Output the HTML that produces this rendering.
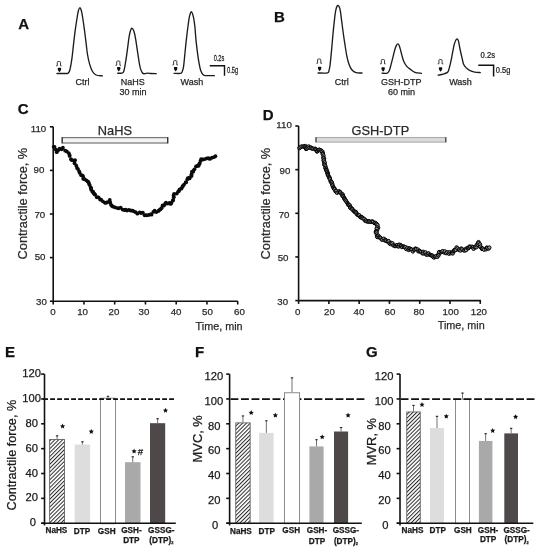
<!DOCTYPE html>
<html><head><meta charset="utf-8"><style>
html,body{margin:0;padding:0;background:#fff;}
svg{display:block;will-change:transform;filter:blur(0.3px);}
text{font-family:"Liberation Sans", sans-serif;}
</style></head><body>
<svg width="540" height="550" viewBox="0 0 540 550">
<defs><pattern id="hatch" patternUnits="userSpaceOnUse" width="2.75" height="2.75" patternTransform="rotate(45)"><rect width="2.75" height="2.75" fill="#fff"/><rect x="0" y="0" width="1.0" height="2.75" fill="#2b2b2b"/></pattern></defs>
<rect width="540" height="550" fill="#fff"/>
<text x="18.15" y="28.6" font-size="15" font-weight="bold" text-anchor="start" fill="#111" stroke="#111" stroke-width="0.25" >A</text>
<text x="273.95" y="21.9" font-size="15" font-weight="bold" text-anchor="start" fill="#111" stroke="#111" stroke-width="0.25" >B</text>
<text x="17.8" y="114.4" font-size="15" font-weight="bold" text-anchor="start" fill="#111" stroke="#111" stroke-width="0.25" >C</text>
<text x="262.85" y="119.8" font-size="15" font-weight="bold" text-anchor="start" fill="#111" stroke="#111" stroke-width="0.25" >D</text>
<text x="5.05" y="356.7" font-size="15" font-weight="bold" text-anchor="start" fill="#111" stroke="#111" stroke-width="0.25" >E</text>
<text x="195.05" y="356.7" font-size="15" font-weight="bold" text-anchor="start" fill="#111" stroke="#111" stroke-width="0.25" >F</text>
<text x="366" y="356.7" font-size="15" font-weight="bold" text-anchor="start" fill="#111" stroke="#111" stroke-width="0.25" >G</text>
<path d="M57 73.5 C58.5 73.5 64.1 73.57 66 73.5 C67.9 73.43 67.73 73.77 68.4 73.1 C69.07 72.43 69.42 71.9 70 69.5 C70.58 67.1 71.32 62.85 71.9 58.7 C72.48 54.55 72.95 49.32 73.5 44.6 C74.05 39.88 74.63 34.67 75.2 30.4 C75.77 26.13 76.4 22.15 76.9 19 C77.4 15.85 77.72 13.37 78.2 11.5 C78.68 9.63 79.25 7.85 79.8 7.8 C80.35 7.75 80.98 9.33 81.5 11.2 C82.02 13.07 82.4 15.8 82.9 19 C83.4 22.2 83.97 26.38 84.5 30.4 C85.03 34.42 85.6 39.08 86.1 43.1 C86.6 47.12 86.9 50.95 87.5 54.5 C88.1 58.05 88.87 61.57 89.7 64.4 C90.53 67.23 91.45 69.73 92.5 71.5 C93.55 73.27 94.35 74.28 96 75 C97.65 75.72 101.33 75.67 102.4 75.8" fill="none" stroke="#1c1c1c" stroke-width="1.35" stroke-linejoin="round" stroke-linecap="round"/>
<path d="M117.7 73.2 C118.42 73.2 121.03 73.4 122 73.2 C122.97 73 123.08 72.8 123.5 72 C123.92 71.2 124.07 70.58 124.5 68.4 C124.93 66.22 125.57 62.42 126.1 58.9 C126.63 55.38 127.17 51.17 127.7 47.3 C128.23 43.43 128.77 38.65 129.3 35.7 C129.83 32.75 130.43 30.83 130.9 29.6 C131.37 28.37 131.58 27.98 132.1 28.3 C132.62 28.62 133.42 29.73 134 31.5 C134.58 33.27 135.07 35.92 135.6 38.9 C136.13 41.88 136.67 45.88 137.2 49.4 C137.73 52.92 138.27 56.83 138.8 60 C139.33 63.17 139.78 66.23 140.4 68.4 C141.02 70.57 141.8 72.12 142.5 73 C143.2 73.88 143.72 73.67 144.6 73.7 C145.48 73.73 146.73 73.23 147.8 73.2 C148.87 73.17 149.6 73.42 151 73.5 C152.4 73.58 155.33 73.67 156.2 73.7" fill="none" stroke="#1c1c1c" stroke-width="1.35" stroke-linejoin="round" stroke-linecap="round"/>
<path d="M174.1 73.4 C175.17 73.4 179.13 73.72 180.5 73.4 C181.87 73.08 181.78 72.67 182.3 71.5 C182.82 70.33 183.15 69.53 183.6 66.4 C184.05 63.27 184.53 57.25 185 52.7 C185.47 48.15 185.88 43.63 186.4 39.1 C186.92 34.57 187.57 29.37 188.1 25.5 C188.63 21.63 189.03 18.18 189.6 15.9 C190.17 13.62 190.85 11.57 191.5 11.8 C192.15 12.03 192.93 14.8 193.5 17.3 C194.07 19.8 194.5 23.17 194.9 26.8 C195.3 30.43 195.5 35 195.9 39.1 C196.3 43.2 196.8 47.53 197.3 51.4 C197.8 55.27 198.33 59.12 198.9 62.3 C199.47 65.48 199.95 68.38 200.7 70.5 C201.45 72.62 202.35 74.15 203.4 75 C204.45 75.85 205.18 75.48 207 75.6 C208.82 75.72 213.08 75.68 214.3 75.7" fill="none" stroke="#1c1c1c" stroke-width="1.35" stroke-linejoin="round" stroke-linecap="round"/>
<path d="M318.1 73 C319.67 72.98 325.68 73.32 327.5 72.9 C329.32 72.48 328.58 71.73 329 70.5 C329.42 69.27 329.58 68.77 330 65.5 C330.42 62.23 331.02 56 331.5 50.9 C331.98 45.8 332.42 39.98 332.9 34.9 C333.38 29.82 333.92 24.52 334.4 20.4 C334.88 16.28 335.25 12.68 335.8 10.2 C336.35 7.72 337.02 5.75 337.7 5.5 C338.38 5.25 339.25 6.22 339.9 8.7 C340.55 11.18 341.07 16.52 341.6 20.4 C342.13 24.28 342.57 28.13 343.1 32 C343.63 35.87 344.2 39.72 344.8 43.6 C345.4 47.48 346.02 51.9 346.7 55.3 C347.38 58.7 348.05 61.58 348.9 64 C349.75 66.42 350.58 68.35 351.8 69.8 C353.02 71.25 354.5 72.17 356.2 72.7 C357.9 73.23 361.03 72.95 362 73" fill="none" stroke="#1c1c1c" stroke-width="1.35" stroke-linejoin="round" stroke-linecap="round"/>
<path d="M382.1 73.2 C382.95 73.18 385.98 73.58 387.2 73.1 C388.42 72.62 388.8 71.55 389.4 70.3 C390 69.05 390.33 67.3 390.8 65.6 C391.27 63.9 391.73 61.95 392.2 60.1 C392.67 58.25 393.13 56.35 393.6 54.5 C394.07 52.65 394.53 50.53 395 49 C395.47 47.47 395.93 46.15 396.4 45.3 C396.87 44.45 397.35 43.9 397.8 43.9 C398.25 43.9 398.65 44.3 399.1 45.3 C399.55 46.3 400.03 48.22 400.5 49.9 C400.97 51.58 401.35 53.47 401.9 55.4 C402.45 57.33 403.02 59.72 403.8 61.5 C404.58 63.28 405.52 64.8 406.6 66.1 C407.68 67.4 408.92 68.25 410.3 69.3 C411.68 70.35 413.05 71.73 414.9 72.4 C416.75 73.07 420.32 73.15 421.4 73.3" fill="none" stroke="#1c1c1c" stroke-width="1.35" stroke-linejoin="round" stroke-linecap="round"/>
<path d="M438.2 75.2 C439.05 75.03 441.77 74.67 443.3 74.2 C444.83 73.73 446.48 73.13 447.4 72.4 C448.32 71.67 448.33 71.15 448.8 69.8 C449.27 68.45 449.73 66.3 450.2 64.3 C450.67 62.3 451.13 60.12 451.6 57.8 C452.07 55.48 452.53 52.72 453 50.4 C453.47 48.08 453.83 45.75 454.4 43.9 C454.97 42.05 455.75 39.85 456.4 39.3 C457.05 38.75 457.72 39.07 458.3 40.6 C458.88 42.13 459.32 45.78 459.9 48.5 C460.48 51.22 461.18 54.27 461.8 56.9 C462.42 59.53 462.83 62.45 463.6 64.3 C464.37 66.15 465.32 66.93 466.4 68 C467.48 69.07 468.72 70.02 470.1 70.7 C471.48 71.38 473 71.78 474.7 72.1 C476.4 72.42 479.37 72.52 480.3 72.6" fill="none" stroke="#1c1c1c" stroke-width="1.35" stroke-linejoin="round" stroke-linecap="round"/>
<path d="M56.1 65.8 h1.2 v-3.5 q0 -0.75 0.75 -0.75 h1.7 q0.75 0 0.75 0.75 v3.5 h1.2" fill="none" stroke="#333" stroke-width="0.95"/>
<path d="M57.7 68.55 q0 -0.75 0.75 -0.75 h2.0 q0.75 0 0.75 0.75 c0 1.9 -1.0 2.9 -1.75 3.7 c-0.75 -0.8 -1.75 -1.8 -1.75 -3.7z" fill="#0d0d0d"/>
<path d="M115.5 65.3 h1.2 v-3.5 q0 -0.75 0.75 -0.75 h1.7 q0.75 0 0.75 0.75 v3.5 h1.2" fill="none" stroke="#333" stroke-width="0.95"/>
<path d="M117 67.85 q0 -0.75 0.75 -0.75 h2.0 q0.75 0 0.75 0.75 c0 1.9 -1.0 2.9 -1.75 3.7 c-0.75 -0.8 -1.75 -1.8 -1.75 -3.7z" fill="#0d0d0d"/>
<path d="M172.4 64.9 h1.2 v-3.5 q0 -0.75 0.75 -0.75 h1.7 q0.75 0 0.75 0.75 v3.5 h1.2" fill="none" stroke="#333" stroke-width="0.95"/>
<path d="M173.9 67.85 q0 -0.75 0.75 -0.75 h2.0 q0.75 0 0.75 0.75 c0 1.9 -1.0 2.9 -1.75 3.7 c-0.75 -0.8 -1.75 -1.8 -1.75 -3.7z" fill="#0d0d0d"/>
<path d="M316.4 63.3 h1.2 v-3.5 q0 -0.75 0.75 -0.75 h1.7 q0.75 0 0.75 0.75 v3.5 h1.2" fill="none" stroke="#333" stroke-width="0.95"/>
<path d="M317.9 67.45 q0 -0.75 0.75 -0.75 h2.0 q0.75 0 0.75 0.75 c0 1.9 -1.0 2.9 -1.75 3.7 c-0.75 -0.8 -1.75 -1.8 -1.75 -3.7z" fill="#0d0d0d"/>
<path d="M380.1 63.8 h1.2 v-3.5 q0 -0.75 0.75 -0.75 h1.7 q0.75 0 0.75 0.75 v3.5 h1.2" fill="none" stroke="#333" stroke-width="0.95"/>
<path d="M381.4 68.05 q0 -0.75 0.75 -0.75 h2.0 q0.75 0 0.75 0.75 c0 1.9 -1.0 2.9 -1.75 3.7 c-0.75 -0.8 -1.75 -1.8 -1.75 -3.7z" fill="#0d0d0d"/>
<path d="M437.7 63.8 h1.2 v-3.5 q0 -0.75 0.75 -0.75 h1.7 q0.75 0 0.75 0.75 v3.5 h1.2" fill="none" stroke="#333" stroke-width="0.95"/>
<path d="M438.8 68.05 q0 -0.75 0.75 -0.75 h2.0 q0.75 0 0.75 0.75 c0 1.9 -1.0 2.9 -1.75 3.7 c-0.75 -0.8 -1.75 -1.8 -1.75 -3.7z" fill="#0d0d0d"/>
<path d="M209.8 65.7 H224.5 V75.7" fill="none" stroke="#111" stroke-width="1.4"/>
<path d="M478.3 65.3 H493.6 V76.5" fill="none" stroke="#111" stroke-width="1.5"/>
<text x="213.7" y="61.5" font-size="9" text-anchor="start" fill="#222" stroke="#222" stroke-width="0.25" transform="translate(213.7 0) scale(0.62 1) translate(-213.7 0)">0.2s</text>
<text x="227" y="72.6" font-size="9.3" text-anchor="start" fill="#222" stroke="#222" stroke-width="0.25" transform="translate(227 0) scale(0.62 1) translate(-227 0)">0.5g</text>
<text x="480.6" y="58" font-size="8.5" text-anchor="start" fill="#222" stroke="#222" stroke-width="0.25" transform="translate(480.6 0) scale(0.9 1) translate(-480.6 0)">0.2s</text>
<text x="495.8" y="73.2" font-size="8.8" text-anchor="start" fill="#222" stroke="#222" stroke-width="0.25" transform="translate(495.8 0) scale(0.85 1) translate(-495.8 0)">0.5g</text>
<text x="82.5" y="84.8" font-size="9" text-anchor="middle" fill="#262626" stroke="#262626" stroke-width="0.25" >Ctrl</text>
<text x="132.7" y="84.8" font-size="9" text-anchor="middle" fill="#262626" stroke="#262626" stroke-width="0.25" >NaHS</text>
<text x="133" y="95.4" font-size="9" text-anchor="middle" fill="#262626" stroke="#262626" stroke-width="0.25" >30 min</text>
<text x="191.9" y="84.8" font-size="9" text-anchor="middle" fill="#262626" stroke="#262626" stroke-width="0.25" >Wash</text>
<text x="341.7" y="84.8" font-size="9" text-anchor="middle" fill="#262626" stroke="#262626" stroke-width="0.25" >Ctrl</text>
<text x="401.2" y="84.8" font-size="9" text-anchor="middle" fill="#262626" stroke="#262626" stroke-width="0.25" >GSH-DTP</text>
<text x="401.5" y="95.4" font-size="9" text-anchor="middle" fill="#262626" stroke="#262626" stroke-width="0.25" >60 min</text>
<text x="460.5" y="84.8" font-size="9" text-anchor="middle" fill="#262626" stroke="#262626" stroke-width="0.25" >Wash</text>
<path d="M53.2 126.8 V301.2" stroke="#111" stroke-width="1.6" fill="none"/>
<path d="M53.2 301.2 H237.8" stroke="#111" stroke-width="1.6" fill="none"/>
<path d="M49.9 126.8 H53.2" stroke="#111" stroke-width="1.6" fill="none"/>
<text x="38.55" y="131.65" font-size="9.7" text-anchor="middle" fill="#2a2a2a" stroke="#2a2a2a" stroke-width="0.25" >110</text>
<path d="M49.9 170.4 H53.2" stroke="#111" stroke-width="1.6" fill="none"/>
<text x="38.9" y="173.35" font-size="9.7" text-anchor="middle" fill="#2a2a2a" stroke="#2a2a2a" stroke-width="0.25" >90</text>
<path d="M49.9 214 H53.2" stroke="#111" stroke-width="1.6" fill="none"/>
<text x="39.8" y="218.2" font-size="9.7" text-anchor="middle" fill="#2a2a2a" stroke="#2a2a2a" stroke-width="0.25" >70</text>
<path d="M49.9 257.6 H53.2" stroke="#111" stroke-width="1.6" fill="none"/>
<text x="40.1" y="260.35" font-size="9.7" text-anchor="middle" fill="#2a2a2a" stroke="#2a2a2a" stroke-width="0.25" >50</text>
<path d="M49.9 301.2 H53.2" stroke="#111" stroke-width="1.6" fill="none"/>
<text x="41.4" y="304.8" font-size="9.7" text-anchor="middle" fill="#2a2a2a" stroke="#2a2a2a" stroke-width="0.25" >30</text>
<path d="M53.2 301.2 V304.5" stroke="#111" stroke-width="1.6" fill="none"/>
<text x="52.9" y="315" font-size="9.7" text-anchor="middle" fill="#2a2a2a" stroke="#2a2a2a" stroke-width="0.25" >0</text>
<path d="M83.95 301.2 V304.5" stroke="#111" stroke-width="1.6" fill="none"/>
<text x="82.6" y="315" font-size="9.7" text-anchor="middle" fill="#2a2a2a" stroke="#2a2a2a" stroke-width="0.25" >10</text>
<path d="M114.7 301.2 V304.5" stroke="#111" stroke-width="1.6" fill="none"/>
<text x="114" y="315" font-size="9.7" text-anchor="middle" fill="#2a2a2a" stroke="#2a2a2a" stroke-width="0.25" >20</text>
<path d="M145.45 301.2 V304.5" stroke="#111" stroke-width="1.6" fill="none"/>
<text x="143.9" y="315" font-size="9.7" text-anchor="middle" fill="#2a2a2a" stroke="#2a2a2a" stroke-width="0.25" >30</text>
<path d="M176.2 301.2 V304.5" stroke="#111" stroke-width="1.6" fill="none"/>
<text x="176.1" y="315" font-size="9.7" text-anchor="middle" fill="#2a2a2a" stroke="#2a2a2a" stroke-width="0.25" >40</text>
<path d="M206.95 301.2 V304.5" stroke="#111" stroke-width="1.6" fill="none"/>
<text x="207.5" y="315" font-size="9.7" text-anchor="middle" fill="#2a2a2a" stroke="#2a2a2a" stroke-width="0.25" >50</text>
<path d="M237.7 301.2 V304.5" stroke="#111" stroke-width="1.6" fill="none"/>
<text x="239.4" y="315" font-size="9.7" text-anchor="middle" fill="#2a2a2a" stroke="#2a2a2a" stroke-width="0.25" >60</text>
<path d="M298.6 126 V300.6" stroke="#111" stroke-width="1.6" fill="none"/>
<path d="M298.6 300.6 H481" stroke="#111" stroke-width="1.6" fill="none"/>
<path d="M295.3 126 H298.6" stroke="#111" stroke-width="1.6" fill="none"/>
<text x="284.1" y="128.2" font-size="9.7" text-anchor="middle" fill="#2a2a2a" stroke="#2a2a2a" stroke-width="0.25" >110</text>
<path d="M295.3 169.65 H298.6" stroke="#111" stroke-width="1.6" fill="none"/>
<text x="285" y="173.7" font-size="9.7" text-anchor="middle" fill="#2a2a2a" stroke="#2a2a2a" stroke-width="0.25" >90</text>
<path d="M295.3 213.3 H298.6" stroke="#111" stroke-width="1.6" fill="none"/>
<text x="284.1" y="217.6" font-size="9.7" text-anchor="middle" fill="#2a2a2a" stroke="#2a2a2a" stroke-width="0.25" >70</text>
<path d="M295.3 256.95 H298.6" stroke="#111" stroke-width="1.6" fill="none"/>
<text x="283.1" y="260.7" font-size="9.7" text-anchor="middle" fill="#2a2a2a" stroke="#2a2a2a" stroke-width="0.25" >50</text>
<path d="M295.3 300.6 H298.6" stroke="#111" stroke-width="1.6" fill="none"/>
<text x="282.7" y="305.1" font-size="9.7" text-anchor="middle" fill="#2a2a2a" stroke="#2a2a2a" stroke-width="0.25" >30</text>
<path d="M298.6 300.6 V303.9" stroke="#111" stroke-width="1.6" fill="none"/>
<text x="297.7" y="315" font-size="9.7" text-anchor="middle" fill="#2a2a2a" stroke="#2a2a2a" stroke-width="0.25" >0</text>
<path d="M328.88 300.6 V303.9" stroke="#111" stroke-width="1.6" fill="none"/>
<text x="329.4" y="315" font-size="9.7" text-anchor="middle" fill="#2a2a2a" stroke="#2a2a2a" stroke-width="0.25" >20</text>
<path d="M359.16 300.6 V303.9" stroke="#111" stroke-width="1.6" fill="none"/>
<text x="359" y="315" font-size="9.7" text-anchor="middle" fill="#2a2a2a" stroke="#2a2a2a" stroke-width="0.25" >40</text>
<path d="M389.44 300.6 V303.9" stroke="#111" stroke-width="1.6" fill="none"/>
<text x="389.9" y="315" font-size="9.7" text-anchor="middle" fill="#2a2a2a" stroke="#2a2a2a" stroke-width="0.25" >60</text>
<path d="M419.72 300.6 V303.9" stroke="#111" stroke-width="1.6" fill="none"/>
<text x="418.9" y="315" font-size="9.7" text-anchor="middle" fill="#2a2a2a" stroke="#2a2a2a" stroke-width="0.25" >80</text>
<path d="M450 300.6 V303.9" stroke="#111" stroke-width="1.6" fill="none"/>
<text x="450.7" y="315" font-size="9.7" text-anchor="middle" fill="#2a2a2a" stroke="#2a2a2a" stroke-width="0.25" >100</text>
<path d="M480.28 300.6 V303.9" stroke="#111" stroke-width="1.6" fill="none"/>
<text x="478.9" y="315" font-size="9.7" text-anchor="middle" fill="#2a2a2a" stroke="#2a2a2a" stroke-width="0.25" >120</text>
<text x="242.6" y="329.7" font-size="10.8" text-anchor="end" fill="#2a2a2a" stroke="#2a2a2a" stroke-width="0.25" >Time, min</text>
<text x="484.7" y="328.6" font-size="10.8" text-anchor="end" fill="#2a2a2a" stroke="#2a2a2a" stroke-width="0.25" >Time, min</text>
<text x="0" y="0" font-size="12.8" text-anchor="middle" fill="#2a2a2a" stroke="#2a2a2a" stroke-width="0.25" transform="translate(27.2 203.6) rotate(-90)">Contractile force, %</text>
<text x="0" y="0" font-size="12.8" text-anchor="middle" fill="#2a2a2a" stroke="#2a2a2a" stroke-width="0.25" transform="translate(270.3 203.6) rotate(-90)">Contractile force, %</text>
<rect x="62.2" y="137.6" width="105.5" height="5.4" fill="#f2f2f2" stroke="#7a7a7a" stroke-width="1.25"/>
<path d="M62.2 137.3 V143.3 M167.7 137.3 V143.3" stroke="#2a2a2a" stroke-width="1.1"/>
<text x="114.9" y="134.5" font-size="12.8" text-anchor="middle" fill="#2a2a2a" stroke="#2a2a2a" stroke-width="0.25" >NaHS</text>
<rect x="316.0" y="137.5" width="129.8" height="4.6" fill="#dadada" stroke="#ababab" stroke-width="1.1"/>
<path d="M316.0 137.3 V142.3 M445.8 137.3 V142.3" stroke="#333" stroke-width="1.1"/>
<text x="380.4" y="134.5" font-size="12.8" text-anchor="middle" fill="#2a2a2a" stroke="#2a2a2a" stroke-width="0.25" >GSH-DTP</text>
<g fill="#0a0a0a"><circle cx="53.62" cy="146.8" r="1.9"/><circle cx="54.55" cy="146.94" r="1.9"/><circle cx="55.84" cy="149.73" r="1.9"/><circle cx="56.76" cy="152.21" r="1.9"/><circle cx="58.14" cy="150.37" r="1.9"/><circle cx="59.57" cy="148.58" r="1.9"/><circle cx="61.62" cy="149.25" r="1.9"/><circle cx="62.92" cy="147.75" r="1.9"/><circle cx="65.13" cy="150.7" r="1.9"/><circle cx="66.78" cy="151.49" r="1.9"/><circle cx="68.78" cy="153.09" r="1.9"/><circle cx="69.51" cy="154.93" r="1.9"/><circle cx="69.64" cy="155.94" r="1.9"/><circle cx="70.91" cy="159.13" r="1.9"/><circle cx="71.88" cy="160.16" r="1.9"/><circle cx="73.74" cy="160.54" r="1.9"/><circle cx="75.05" cy="160.23" r="1.9"/><circle cx="74.56" cy="163.31" r="1.9"/><circle cx="76.28" cy="165.66" r="1.9"/><circle cx="77.01" cy="167.97" r="1.9"/><circle cx="78" cy="169.05" r="1.9"/><circle cx="79.19" cy="171.5" r="1.9"/><circle cx="79.74" cy="172.9" r="1.9"/><circle cx="81.13" cy="175.15" r="1.9"/><circle cx="82.06" cy="175.28" r="1.9"/><circle cx="83.05" cy="176.24" r="1.9"/><circle cx="83.22" cy="178.81" r="1.9"/><circle cx="84.65" cy="179.18" r="1.9"/><circle cx="86.24" cy="180.34" r="1.9"/><circle cx="87.7" cy="181.45" r="1.9"/><circle cx="88.54" cy="182.23" r="1.9"/><circle cx="89.1" cy="184.09" r="1.9"/><circle cx="89.71" cy="185.11" r="1.9"/><circle cx="90.71" cy="187.39" r="1.9"/><circle cx="91.07" cy="188.13" r="1.9"/><circle cx="91.23" cy="189.67" r="1.9"/><circle cx="92.38" cy="191.72" r="1.9"/><circle cx="93.12" cy="191.77" r="1.9"/><circle cx="93.79" cy="193.49" r="1.9"/><circle cx="94.52" cy="194.02" r="1.9"/><circle cx="95.27" cy="194.83" r="1.9"/><circle cx="96.81" cy="197.24" r="1.9"/><circle cx="98.53" cy="197.3" r="1.9"/><circle cx="100.09" cy="199.48" r="1.9"/><circle cx="101.08" cy="199.57" r="1.9"/><circle cx="102.85" cy="201.37" r="1.9"/><circle cx="104.72" cy="202.58" r="1.9"/><circle cx="105.78" cy="202.93" r="1.9"/><circle cx="107.36" cy="202.27" r="1.9"/><circle cx="109.76" cy="199.9" r="1.9"/><circle cx="110.18" cy="202.46" r="1.9"/><circle cx="110.93" cy="204.67" r="1.9"/><circle cx="111.99" cy="205.93" r="1.9"/><circle cx="113.1" cy="206.67" r="1.9"/><circle cx="115.17" cy="207.4" r="1.9"/><circle cx="117.45" cy="208.08" r="1.9"/><circle cx="118.75" cy="208.37" r="1.9"/><circle cx="120.64" cy="207.67" r="1.9"/><circle cx="122.6" cy="209.56" r="1.9"/><circle cx="124.31" cy="210.03" r="1.9"/><circle cx="125.56" cy="209.66" r="1.9"/><circle cx="127" cy="210.57" r="1.9"/><circle cx="128.7" cy="209.87" r="1.9"/><circle cx="130.58" cy="210.49" r="1.9"/><circle cx="132.44" cy="210.71" r="1.9"/><circle cx="133.83" cy="211.34" r="1.9"/><circle cx="135.67" cy="212.19" r="1.9"/><circle cx="137.33" cy="213.65" r="1.9"/><circle cx="139.65" cy="212.4" r="1.9"/><circle cx="141.02" cy="212.99" r="1.9"/><circle cx="142.86" cy="212.75" r="1.9"/><circle cx="144.65" cy="215.35" r="1.9"/><circle cx="145.57" cy="215.2" r="1.9"/><circle cx="146.49" cy="215.3" r="1.9"/><circle cx="148.64" cy="214.98" r="1.9"/><circle cx="151.03" cy="214.12" r="1.9"/><circle cx="151.52" cy="214.64" r="1.9"/><circle cx="153.33" cy="211.96" r="1.9"/><circle cx="154.64" cy="210.65" r="1.9"/><circle cx="156.36" cy="212.06" r="1.9"/><circle cx="158.43" cy="210.99" r="1.9"/><circle cx="159.56" cy="209.83" r="1.9"/><circle cx="160.44" cy="209.27" r="1.9"/><circle cx="161.78" cy="207.91" r="1.9"/><circle cx="162.55" cy="205.42" r="1.9"/><circle cx="164.01" cy="205.57" r="1.9"/><circle cx="165" cy="204.01" r="1.9"/><circle cx="165.92" cy="202.68" r="1.9"/><circle cx="167.73" cy="203.54" r="1.9"/><circle cx="169.41" cy="203.01" r="1.9"/><circle cx="170.63" cy="203.96" r="1.9"/><circle cx="171.43" cy="202.99" r="1.9"/><circle cx="172.69" cy="200.69" r="1.9"/><circle cx="173.24" cy="199.98" r="1.9"/><circle cx="173.79" cy="197.2" r="1.9"/><circle cx="173.59" cy="195.39" r="1.9"/><circle cx="174.1" cy="193.81" r="1.9"/><circle cx="176.82" cy="193.6" r="1.9"/><circle cx="178.14" cy="191.54" r="1.9"/><circle cx="179.05" cy="190.96" r="1.9"/><circle cx="179.58" cy="189.46" r="1.9"/><circle cx="181.51" cy="188.48" r="1.9"/><circle cx="182.45" cy="186.66" r="1.9"/><circle cx="182.88" cy="185.94" r="1.9"/><circle cx="184.03" cy="184.62" r="1.9"/><circle cx="185.67" cy="182.47" r="1.9"/><circle cx="186.1" cy="182.23" r="1.9"/><circle cx="187.42" cy="179.34" r="1.9"/><circle cx="187.8" cy="178.2" r="1.9"/><circle cx="189.55" cy="178.41" r="1.9"/><circle cx="189.77" cy="177.35" r="1.9"/><circle cx="191.58" cy="175.91" r="1.9"/><circle cx="191.5" cy="174.3" r="1.9"/><circle cx="191.83" cy="171.83" r="1.9"/><circle cx="193.22" cy="171.7" r="1.9"/><circle cx="193.33" cy="170.87" r="1.9"/><circle cx="194.38" cy="169.34" r="1.9"/><circle cx="195.93" cy="166.62" r="1.9"/><circle cx="197" cy="165.99" r="1.9"/><circle cx="198.64" cy="165.77" r="1.9"/><circle cx="199.23" cy="163.94" r="1.9"/><circle cx="199.66" cy="163.42" r="1.9"/><circle cx="200.45" cy="161.02" r="1.9"/><circle cx="201.18" cy="159.11" r="1.9"/><circle cx="202.89" cy="159.5" r="1.9"/><circle cx="204.83" cy="159.1" r="1.9"/><circle cx="206.72" cy="158.44" r="1.9"/><circle cx="208.47" cy="158.23" r="1.9"/><circle cx="209.87" cy="158.93" r="1.9"/><circle cx="211.87" cy="157.75" r="1.9"/><circle cx="214.13" cy="157.06" r="1.9"/><circle cx="215.43" cy="156.14" r="1.9"/></g>
<g fill="#9a9a9a" stroke="#000" stroke-width="1.0"><circle cx="299.44" cy="148.08" r="1.7"/><circle cx="300.23" cy="147.31" r="1.7"/><circle cx="301.5" cy="146.48" r="1.7"/><circle cx="303.02" cy="146.51" r="1.7"/><circle cx="303.95" cy="146.56" r="1.7"/><circle cx="305.33" cy="146.04" r="1.7"/><circle cx="305.46" cy="147.04" r="1.7"/><circle cx="305.74" cy="148.16" r="1.7"/><circle cx="306.06" cy="148.93" r="1.7"/><circle cx="306.82" cy="148.61" r="1.7"/><circle cx="307.73" cy="147.81" r="1.7"/><circle cx="308.65" cy="146.46" r="1.7"/><circle cx="309.5" cy="147.69" r="1.7"/><circle cx="310.87" cy="147.44" r="1.7"/><circle cx="311.4" cy="148.29" r="1.7"/><circle cx="312.46" cy="148.64" r="1.7"/><circle cx="313.56" cy="148.77" r="1.7"/><circle cx="315.23" cy="148.7" r="1.7"/><circle cx="315.29" cy="149.45" r="1.7"/><circle cx="316.26" cy="149.81" r="1.7"/><circle cx="317.01" cy="151.57" r="1.7"/><circle cx="317.21" cy="150.99" r="1.7"/><circle cx="318.09" cy="149.95" r="1.7"/><circle cx="319.29" cy="149.73" r="1.7"/><circle cx="319.73" cy="149.93" r="1.7"/><circle cx="321.11" cy="150.44" r="1.7"/><circle cx="321.42" cy="151.32" r="1.7"/><circle cx="322.41" cy="151.63" r="1.7"/><circle cx="322.84" cy="153.2" r="1.7"/><circle cx="322.71" cy="154.16" r="1.7"/><circle cx="323.5" cy="155.59" r="1.7"/><circle cx="323.35" cy="157.48" r="1.7"/><circle cx="324.03" cy="158.55" r="1.7"/><circle cx="323.58" cy="158.52" r="1.7"/><circle cx="323.63" cy="160.45" r="1.7"/><circle cx="323.92" cy="160.51" r="1.7"/><circle cx="324.22" cy="162.66" r="1.7"/><circle cx="324.72" cy="162.51" r="1.7"/><circle cx="324.36" cy="164.47" r="1.7"/><circle cx="324.88" cy="165.02" r="1.7"/><circle cx="324.67" cy="164.89" r="1.7"/><circle cx="325.49" cy="166.36" r="1.7"/><circle cx="325.34" cy="168.06" r="1.7"/><circle cx="326.13" cy="168.72" r="1.7"/><circle cx="326.03" cy="169.69" r="1.7"/><circle cx="326.35" cy="170.58" r="1.7"/><circle cx="326.93" cy="170.68" r="1.7"/><circle cx="327.28" cy="172.55" r="1.7"/><circle cx="327.31" cy="172.21" r="1.7"/><circle cx="327.79" cy="173.31" r="1.7"/><circle cx="327.72" cy="174.12" r="1.7"/><circle cx="327.94" cy="175.12" r="1.7"/><circle cx="328.53" cy="176.2" r="1.7"/><circle cx="329.27" cy="177.1" r="1.7"/><circle cx="329.45" cy="177.83" r="1.7"/><circle cx="329.71" cy="178.5" r="1.7"/><circle cx="330.02" cy="179.41" r="1.7"/><circle cx="330.79" cy="181.18" r="1.7"/><circle cx="330.79" cy="181.96" r="1.7"/><circle cx="331.83" cy="182.27" r="1.7"/><circle cx="332.18" cy="183.69" r="1.7"/><circle cx="332.36" cy="185.24" r="1.7"/><circle cx="332.71" cy="185.61" r="1.7"/><circle cx="333.39" cy="187.25" r="1.7"/><circle cx="333.55" cy="187.89" r="1.7"/><circle cx="334.29" cy="188.46" r="1.7"/><circle cx="334.48" cy="188.88" r="1.7"/><circle cx="334.64" cy="189.41" r="1.7"/><circle cx="335.39" cy="191.12" r="1.7"/><circle cx="336.27" cy="190.93" r="1.7"/><circle cx="336.87" cy="192.75" r="1.7"/><circle cx="338.6" cy="192.22" r="1.7"/><circle cx="339.23" cy="191.29" r="1.7"/><circle cx="340" cy="192.17" r="1.7"/><circle cx="340.66" cy="192.68" r="1.7"/><circle cx="341.51" cy="194.04" r="1.7"/><circle cx="342.55" cy="194.25" r="1.7"/><circle cx="342.45" cy="195.8" r="1.7"/><circle cx="342.97" cy="195.7" r="1.7"/><circle cx="343.2" cy="196.61" r="1.7"/><circle cx="344.1" cy="197.7" r="1.7"/><circle cx="344.39" cy="198.61" r="1.7"/><circle cx="344.75" cy="199.12" r="1.7"/><circle cx="345.34" cy="200.24" r="1.7"/><circle cx="345.82" cy="200.54" r="1.7"/><circle cx="346.54" cy="201.77" r="1.7"/><circle cx="347.32" cy="203" r="1.7"/><circle cx="348" cy="203.95" r="1.7"/><circle cx="348.52" cy="205.06" r="1.7"/><circle cx="348.81" cy="204.92" r="1.7"/><circle cx="349.84" cy="205.39" r="1.7"/><circle cx="350.18" cy="206.93" r="1.7"/><circle cx="350.3" cy="207.9" r="1.7"/><circle cx="351.63" cy="208.22" r="1.7"/><circle cx="352.17" cy="209.18" r="1.7"/><circle cx="352.35" cy="209.38" r="1.7"/><circle cx="353.3" cy="210.54" r="1.7"/><circle cx="354.22" cy="211.18" r="1.7"/><circle cx="354.73" cy="211.95" r="1.7"/><circle cx="355.49" cy="212.29" r="1.7"/><circle cx="355.8" cy="211.89" r="1.7"/><circle cx="356.41" cy="213.08" r="1.7"/><circle cx="357.04" cy="214.52" r="1.7"/><circle cx="358.07" cy="214.86" r="1.7"/><circle cx="358.78" cy="215.63" r="1.7"/><circle cx="359.33" cy="215.23" r="1.7"/><circle cx="360.24" cy="217.1" r="1.7"/><circle cx="360.83" cy="217.31" r="1.7"/><circle cx="361.78" cy="217.11" r="1.7"/><circle cx="362.66" cy="217.95" r="1.7"/><circle cx="362.96" cy="218.52" r="1.7"/><circle cx="364.33" cy="218.98" r="1.7"/><circle cx="365.19" cy="220.76" r="1.7"/><circle cx="365.85" cy="220.36" r="1.7"/><circle cx="366.68" cy="221.39" r="1.7"/><circle cx="368.01" cy="221.65" r="1.7"/><circle cx="369.01" cy="221.16" r="1.7"/><circle cx="369.72" cy="221.81" r="1.7"/><circle cx="371.29" cy="221.89" r="1.7"/><circle cx="372.25" cy="221.42" r="1.7"/><circle cx="372.95" cy="221.83" r="1.7"/><circle cx="374.37" cy="223.07" r="1.7"/><circle cx="375.31" cy="222.87" r="1.7"/><circle cx="376.11" cy="223.82" r="1.7"/><circle cx="376.64" cy="223.99" r="1.7"/><circle cx="377.55" cy="225.11" r="1.7"/><circle cx="378.18" cy="227.66" r="1.7"/><circle cx="377.05" cy="227.51" r="1.7"/><circle cx="377.32" cy="229.53" r="1.7"/><circle cx="376.66" cy="228.89" r="1.7"/><circle cx="376.27" cy="231.31" r="1.7"/><circle cx="376.07" cy="231.45" r="1.7"/><circle cx="375.81" cy="232.25" r="1.7"/><circle cx="376.66" cy="232.53" r="1.7"/><circle cx="376.76" cy="234.49" r="1.7"/><circle cx="377.01" cy="236.05" r="1.7"/><circle cx="377.31" cy="237.02" r="1.7"/><circle cx="378.34" cy="235.65" r="1.7"/><circle cx="378.78" cy="237.23" r="1.7"/><circle cx="379.96" cy="237.36" r="1.7"/><circle cx="380.59" cy="237.9" r="1.7"/><circle cx="381.61" cy="239.43" r="1.7"/><circle cx="382.24" cy="239.67" r="1.7"/><circle cx="383.79" cy="238.72" r="1.7"/><circle cx="384.74" cy="240.47" r="1.7"/><circle cx="385.62" cy="239.98" r="1.7"/><circle cx="386.1" cy="240.64" r="1.7"/><circle cx="387.5" cy="241.52" r="1.7"/><circle cx="387.89" cy="241.6" r="1.7"/><circle cx="388.72" cy="241.21" r="1.7"/><circle cx="389.46" cy="243.38" r="1.7"/><circle cx="390.49" cy="244.04" r="1.7"/><circle cx="391.34" cy="243" r="1.7"/><circle cx="392.43" cy="243.28" r="1.7"/><circle cx="393.2" cy="245.4" r="1.7"/><circle cx="394.51" cy="245.51" r="1.7"/><circle cx="395.2" cy="246.15" r="1.7"/><circle cx="396.35" cy="245.77" r="1.7"/><circle cx="397.08" cy="245.09" r="1.7"/><circle cx="397.99" cy="246.39" r="1.7"/><circle cx="398.8" cy="246.37" r="1.7"/><circle cx="399.23" cy="244.61" r="1.7"/><circle cx="400.64" cy="245.1" r="1.7"/><circle cx="401.18" cy="245.9" r="1.7"/><circle cx="401.94" cy="247.09" r="1.7"/><circle cx="403.38" cy="246.35" r="1.7"/><circle cx="404.02" cy="246.76" r="1.7"/><circle cx="404.83" cy="247.31" r="1.7"/><circle cx="405.39" cy="247.14" r="1.7"/><circle cx="406.31" cy="249.11" r="1.7"/><circle cx="407.42" cy="247.94" r="1.7"/><circle cx="408.63" cy="249.99" r="1.7"/><circle cx="409.16" cy="248.45" r="1.7"/><circle cx="409.85" cy="248.68" r="1.7"/><circle cx="410.87" cy="249.02" r="1.7"/><circle cx="411.69" cy="249.73" r="1.7"/><circle cx="412.86" cy="251.45" r="1.7"/><circle cx="413.93" cy="249.84" r="1.7"/><circle cx="414.6" cy="249.52" r="1.7"/><circle cx="415.5" cy="248.54" r="1.7"/><circle cx="416.15" cy="249.14" r="1.7"/><circle cx="417.77" cy="249.54" r="1.7"/><circle cx="418.3" cy="251.39" r="1.7"/><circle cx="419.49" cy="250.82" r="1.7"/><circle cx="419.92" cy="251.23" r="1.7"/><circle cx="420.92" cy="252" r="1.7"/><circle cx="422.26" cy="253.23" r="1.7"/><circle cx="423.1" cy="251.75" r="1.7"/><circle cx="423.31" cy="253.48" r="1.7"/><circle cx="424.88" cy="253.18" r="1.7"/><circle cx="425.51" cy="252.36" r="1.7"/><circle cx="426.23" cy="254.62" r="1.7"/><circle cx="427.46" cy="254.68" r="1.7"/><circle cx="428.48" cy="253.57" r="1.7"/><circle cx="428.69" cy="253.58" r="1.7"/><circle cx="429.92" cy="254.96" r="1.7"/><circle cx="431.15" cy="255.27" r="1.7"/><circle cx="431.82" cy="255.58" r="1.7"/><circle cx="432.49" cy="255.66" r="1.7"/><circle cx="432.98" cy="256.72" r="1.7"/><circle cx="433.96" cy="257.57" r="1.7"/><circle cx="435.12" cy="256.77" r="1.7"/><circle cx="435.8" cy="256.29" r="1.7"/><circle cx="437.31" cy="256.9" r="1.7"/><circle cx="437.99" cy="255.15" r="1.7"/><circle cx="438.59" cy="255.31" r="1.7"/><circle cx="438.76" cy="253.54" r="1.7"/><circle cx="439.21" cy="252.1" r="1.7"/><circle cx="439.24" cy="252.11" r="1.7"/><circle cx="440.9" cy="252.35" r="1.7"/><circle cx="441.97" cy="251.81" r="1.7"/><circle cx="442.59" cy="251.14" r="1.7"/><circle cx="444.27" cy="252.52" r="1.7"/><circle cx="444.85" cy="251.38" r="1.7"/><circle cx="446.1" cy="253.18" r="1.7"/><circle cx="447.34" cy="252.27" r="1.7"/><circle cx="448.83" cy="253.74" r="1.7"/><circle cx="449.55" cy="252.08" r="1.7"/><circle cx="450.7" cy="253.23" r="1.7"/><circle cx="452.05" cy="253.04" r="1.7"/><circle cx="452.74" cy="253.43" r="1.7"/><circle cx="453.1" cy="251.45" r="1.7"/><circle cx="454.08" cy="250.89" r="1.7"/><circle cx="454.56" cy="249.91" r="1.7"/><circle cx="454.84" cy="250.27" r="1.7"/><circle cx="455.67" cy="249.89" r="1.7"/><circle cx="456.6" cy="247.41" r="1.7"/><circle cx="457.45" cy="248.38" r="1.7"/><circle cx="458.87" cy="250.02" r="1.7"/><circle cx="459.52" cy="249.27" r="1.7"/><circle cx="460.5" cy="250.54" r="1.7"/><circle cx="461.36" cy="248.51" r="1.7"/><circle cx="462.22" cy="249.27" r="1.7"/><circle cx="463.82" cy="250.34" r="1.7"/><circle cx="464.61" cy="250.49" r="1.7"/><circle cx="465.7" cy="248.92" r="1.7"/><circle cx="466.02" cy="250.16" r="1.7"/><circle cx="467.4" cy="248.07" r="1.7"/><circle cx="468.16" cy="248.36" r="1.7"/><circle cx="468.75" cy="247.78" r="1.7"/><circle cx="469.41" cy="246.58" r="1.7"/><circle cx="470.32" cy="246.87" r="1.7"/><circle cx="471.93" cy="246.67" r="1.7"/><circle cx="473" cy="247.16" r="1.7"/><circle cx="473.59" cy="248.81" r="1.7"/><circle cx="474.89" cy="247.35" r="1.7"/><circle cx="475.21" cy="246.84" r="1.7"/><circle cx="476.4" cy="247.22" r="1.7"/><circle cx="476.7" cy="245.2" r="1.7"/><circle cx="477.72" cy="243.67" r="1.7"/><circle cx="477.78" cy="244.59" r="1.7"/><circle cx="478.51" cy="242.09" r="1.7"/><circle cx="478.63" cy="243.04" r="1.7"/><circle cx="480.04" cy="244.37" r="1.7"/><circle cx="480.35" cy="246.93" r="1.7"/><circle cx="480.47" cy="246.7" r="1.7"/><circle cx="481.77" cy="248.09" r="1.7"/><circle cx="482.01" cy="248.94" r="1.7"/><circle cx="482.85" cy="248.61" r="1.7"/><circle cx="483.95" cy="249.66" r="1.7"/><circle cx="486.03" cy="249.39" r="1.7"/><circle cx="486.85" cy="247.59" r="1.7"/><circle cx="487.09" cy="248.11" r="1.7"/><circle cx="488.47" cy="248.7" r="1.7"/><circle cx="489.31" cy="247.55" r="1.7"/></g>
<rect x="49.65" y="439.41" width="14.9" height="84.24" fill="url(#hatch)" stroke="#555" stroke-width="0.8"/>
<path d="M57.1 438.96 V435.36" stroke="#6a6a6a" stroke-width="0.95" fill="none"/>
<path d="M55.9 435.86 H58.3" stroke="#2a2a2a" stroke-width="1.1" fill="none"/>
<rect x="74.7" y="444.55" width="15.4" height="78.65" fill="#dddddd"/>
<path d="M82.4 444.55 V441.32" stroke="#6a6a6a" stroke-width="0.95" fill="none"/>
<path d="M81.2 441.82 H83.6" stroke="#2a2a2a" stroke-width="1.1" fill="none"/>
<rect x="100.5" y="398.21" width="15" height="125.49" fill="#fff" stroke="#8c8c8c" stroke-width="1"/>
<path d="M108 397.71 V395.84" stroke="#6a6a6a" stroke-width="0.95" fill="none"/>
<path d="M106.8 396.34 H109.2" stroke="#2a2a2a" stroke-width="1.1" fill="none"/>
<rect x="125" y="462.19" width="15.5" height="61.01" fill="#a9a9a9"/>
<path d="M132.75 462.19 V456.35" stroke="#6a6a6a" stroke-width="0.95" fill="none"/>
<path d="M131.55 456.85 H133.95" stroke="#2a2a2a" stroke-width="1.1" fill="none"/>
<rect x="150" y="423.18" width="15.2" height="100.02" fill="#4e4948"/>
<path d="M157.6 423.18 V418.21" stroke="#6a6a6a" stroke-width="0.95" fill="none"/>
<path d="M156.4 418.71 H158.8" stroke="#2a2a2a" stroke-width="1.1" fill="none"/>
<path d="M43.1 399.15 H175.8" stroke="#111" stroke-width="1.6" stroke-dasharray="4.9 2.1" fill="none"/>
<polygon points="62.6,423.6 63.36,425.25 65.17,425.47 63.83,426.7 64.19,428.48 62.6,427.6 61.01,428.48 61.37,426.7 60.03,425.47 61.84,425.25" fill="#111"/>
<polygon points="91.3,428.9 92.06,430.55 93.87,430.77 92.53,432 92.89,433.78 91.3,432.9 89.71,433.78 90.07,432 88.73,430.77 90.54,430.55" fill="#111"/>
<polygon points="134.1,448.6 134.86,450.25 136.67,450.47 135.33,451.7 135.69,453.48 134.1,452.6 132.51,453.48 132.87,451.7 131.53,450.47 133.34,450.25" fill="#111"/>
<text x="137.8" y="454.8" font-size="9.6" text-anchor="start" fill="#111" stroke="#111" stroke-width="0.25" >#</text>
<polygon points="165.5,407.8 166.26,409.45 168.07,409.67 166.73,410.9 167.09,412.68 165.5,411.8 163.91,412.68 164.27,410.9 162.93,409.67 164.74,409.45" fill="#111"/>
<path d="M44.5 374.1 V525.4" stroke="#111" stroke-width="1.6" fill="none"/>
<path d="M41.3 523.2 H175.8" stroke="#111" stroke-width="1.6" fill="none"/>
<path d="M41.1 523.2 H44.5" stroke="#111" stroke-width="1.6" fill="none"/>
<text x="32.75" y="526.3" font-size="11.2" text-anchor="middle" fill="#1a1a1a" stroke="#1a1a1a" stroke-width="0.25" >0</text>
<path d="M41.1 498.35 H44.5" stroke="#111" stroke-width="1.6" fill="none"/>
<text x="31.85" y="501.45" font-size="11.2" text-anchor="middle" fill="#1a1a1a" stroke="#1a1a1a" stroke-width="0.25" >20</text>
<path d="M41.1 473.5 H44.5" stroke="#111" stroke-width="1.6" fill="none"/>
<text x="31.85" y="476.6" font-size="11.2" text-anchor="middle" fill="#1a1a1a" stroke="#1a1a1a" stroke-width="0.25" >40</text>
<path d="M41.1 448.65 H44.5" stroke="#111" stroke-width="1.6" fill="none"/>
<text x="31.85" y="451.75" font-size="11.2" text-anchor="middle" fill="#1a1a1a" stroke="#1a1a1a" stroke-width="0.25" >60</text>
<path d="M41.1 423.8 H44.5" stroke="#111" stroke-width="1.6" fill="none"/>
<text x="31.85" y="426.9" font-size="11.2" text-anchor="middle" fill="#1a1a1a" stroke="#1a1a1a" stroke-width="0.25" >80</text>
<path d="M41.1 398.95 H44.5" stroke="#111" stroke-width="1.6" fill="none"/>
<text x="31.55" y="402.05" font-size="11.2" text-anchor="middle" fill="#1a1a1a" stroke="#1a1a1a" stroke-width="0.25" >100</text>
<path d="M41.1 374.1 H44.5" stroke="#111" stroke-width="1.6" fill="none"/>
<text x="31.55" y="377.2" font-size="11.2" text-anchor="middle" fill="#1a1a1a" stroke="#1a1a1a" stroke-width="0.25" >120</text>
<text x="0" y="0" font-size="12.7" text-anchor="middle" fill="#1a1a1a" stroke="#1a1a1a" stroke-width="0.25" transform="translate(16.2 455.1) rotate(-90)">Contractile force, %</text>
<text x="56.4" y="533.3" font-size="8.2" font-weight="bold" text-anchor="middle" fill="#1a1a1a" stroke="#1a1a1a" stroke-width="0.25" >NaHS</text>
<text x="82" y="534.1" font-size="8.2" font-weight="bold" text-anchor="middle" fill="#1a1a1a" stroke="#1a1a1a" stroke-width="0.25" >DTP</text>
<text x="106.7" y="534.1" font-size="8.2" font-weight="bold" text-anchor="middle" fill="#1a1a1a" stroke="#1a1a1a" stroke-width="0.25" >GSH</text>
<text x="131.4" y="533.3" font-size="8.2" font-weight="bold" text-anchor="middle" fill="#1a1a1a" stroke="#1a1a1a" stroke-width="0.25" >GSH-</text>
<text x="131.4" y="542.8" font-size="8.2" font-weight="bold" text-anchor="middle" fill="#1a1a1a" stroke="#1a1a1a" stroke-width="0.25" >DTP</text>
<text x="161.3" y="533.3" font-size="8.2" font-weight="bold" text-anchor="middle" fill="#1a1a1a" stroke="#1a1a1a" stroke-width="0.25" >GSSG-</text>
<text x="161.3" y="542.8" font-size="8.2" font-weight="bold" text-anchor="middle" fill="#1a1a1a" stroke="#1a1a1a" stroke-width="0.25" >(DTP)<tspan font-size="3.9" dy="1.6">2</tspan></text>
<path d="M230.5 399.15 H364.7" stroke="#111" stroke-width="1.6" stroke-dasharray="7.9 2.6" fill="none"/>
<rect x="235.75" y="422.88" width="14.4" height="100.77" fill="url(#hatch)" stroke="#555" stroke-width="0.8"/>
<path d="M242.95 422.43 V415.48" stroke="#6a6a6a" stroke-width="0.95" fill="none"/>
<path d="M241.75 415.98 H244.15" stroke="#2a2a2a" stroke-width="1.1" fill="none"/>
<rect x="259.1" y="432.87" width="14.5" height="90.33" fill="#dddddd"/>
<path d="M266.35 432.87 V420.32" stroke="#6a6a6a" stroke-width="0.95" fill="none"/>
<path d="M265.15 420.82 H267.55" stroke="#2a2a2a" stroke-width="1.1" fill="none"/>
<rect x="284.5" y="392.74" width="15" height="130.96" fill="#fff" stroke="#8c8c8c" stroke-width="1"/>
<path d="M292 392.24 V377.33" stroke="#6a6a6a" stroke-width="0.95" fill="none"/>
<path d="M290.8 377.83 H293.2" stroke="#2a2a2a" stroke-width="1.1" fill="none"/>
<rect x="309.4" y="446.41" width="14.2" height="76.79" fill="#a9a9a9"/>
<path d="M316.5 446.41 V439.21" stroke="#6a6a6a" stroke-width="0.95" fill="none"/>
<path d="M315.3 439.71 H317.7" stroke="#2a2a2a" stroke-width="1.1" fill="none"/>
<rect x="334" y="431.5" width="14.1" height="91.7" fill="#4e4948"/>
<path d="M341.05 431.5 V427.03" stroke="#6a6a6a" stroke-width="0.95" fill="none"/>
<path d="M339.85 427.53 H342.25" stroke="#2a2a2a" stroke-width="1.1" fill="none"/>
<polygon points="251.2,410.1 251.96,411.75 253.77,411.97 252.43,413.2 252.79,414.98 251.2,414.1 249.61,414.98 249.97,413.2 248.63,411.97 250.44,411.75" fill="#111"/>
<polygon points="275.4,412.7 276.16,414.35 277.97,414.57 276.63,415.8 276.99,417.58 275.4,416.7 273.81,417.58 274.17,415.8 272.83,414.57 274.64,414.35" fill="#111"/>
<polygon points="322.2,434.3 322.96,435.95 324.77,436.17 323.43,437.4 323.79,439.18 322.2,438.3 320.61,439.18 320.97,437.4 319.63,436.17 321.44,435.95" fill="#111"/>
<polygon points="348.1,412.7 348.86,414.35 350.67,414.57 349.33,415.8 349.69,417.58 348.1,416.7 346.51,417.58 346.87,415.8 345.53,414.57 347.34,414.35" fill="#111"/>
<path d="M229.6 374.1 V525.4" stroke="#111" stroke-width="1.6" fill="none"/>
<path d="M226.4 523.2 H361.8" stroke="#111" stroke-width="1.6" fill="none"/>
<path d="M226.2 523.2 H229.6" stroke="#111" stroke-width="1.6" fill="none"/>
<text x="215.15" y="529" font-size="11.2" text-anchor="middle" fill="#1a1a1a" stroke="#1a1a1a" stroke-width="0.25" >0</text>
<path d="M226.2 498.35 H229.6" stroke="#111" stroke-width="1.6" fill="none"/>
<text x="214.25" y="504.15" font-size="11.2" text-anchor="middle" fill="#1a1a1a" stroke="#1a1a1a" stroke-width="0.25" >20</text>
<path d="M226.2 473.5 H229.6" stroke="#111" stroke-width="1.6" fill="none"/>
<text x="214.25" y="479.3" font-size="11.2" text-anchor="middle" fill="#1a1a1a" stroke="#1a1a1a" stroke-width="0.25" >40</text>
<path d="M226.2 448.65 H229.6" stroke="#111" stroke-width="1.6" fill="none"/>
<text x="214.25" y="454.45" font-size="11.2" text-anchor="middle" fill="#1a1a1a" stroke="#1a1a1a" stroke-width="0.25" >60</text>
<path d="M226.2 423.8 H229.6" stroke="#111" stroke-width="1.6" fill="none"/>
<text x="214.25" y="429.6" font-size="11.2" text-anchor="middle" fill="#1a1a1a" stroke="#1a1a1a" stroke-width="0.25" >80</text>
<path d="M226.2 398.95 H229.6" stroke="#111" stroke-width="1.6" fill="none"/>
<text x="213.95" y="404.75" font-size="11.2" text-anchor="middle" fill="#1a1a1a" stroke="#1a1a1a" stroke-width="0.25" >100</text>
<path d="M226.2 374.1 H229.6" stroke="#111" stroke-width="1.6" fill="none"/>
<text x="213.95" y="379.9" font-size="11.2" text-anchor="middle" fill="#1a1a1a" stroke="#1a1a1a" stroke-width="0.25" >120</text>
<text x="0" y="0" font-size="12.9" text-anchor="middle" fill="#1a1a1a" stroke="#1a1a1a" stroke-width="0.25" transform="translate(202 438.8) rotate(-90)">MVC, %</text>
<text x="240.9" y="533.5" font-size="8.2" font-weight="bold" text-anchor="middle" fill="#1a1a1a" stroke="#1a1a1a" stroke-width="0.25" >NaHS</text>
<text x="266.7" y="533.5" font-size="8.2" font-weight="bold" text-anchor="middle" fill="#1a1a1a" stroke="#1a1a1a" stroke-width="0.25" >DTP</text>
<text x="291.2" y="533.4" font-size="8.2" font-weight="bold" text-anchor="middle" fill="#1a1a1a" stroke="#1a1a1a" stroke-width="0.25" >GSH</text>
<text x="317" y="533.4" font-size="8.2" font-weight="bold" text-anchor="middle" fill="#1a1a1a" stroke="#1a1a1a" stroke-width="0.25" >GSH-</text>
<text x="317" y="543.5" font-size="8.2" font-weight="bold" text-anchor="middle" fill="#1a1a1a" stroke="#1a1a1a" stroke-width="0.25" >DTP</text>
<text x="345.9" y="533.4" font-size="8.2" font-weight="bold" text-anchor="middle" fill="#1a1a1a" stroke="#1a1a1a" stroke-width="0.25" >GSSG-</text>
<text x="345.9" y="543.5" font-size="8.2" font-weight="bold" text-anchor="middle" fill="#1a1a1a" stroke="#1a1a1a" stroke-width="0.25" >(DTP)<tspan font-size="3.9" dy="1.6">2</tspan></text>
<rect x="406.75" y="411.95" width="13.5" height="111.7" fill="url(#hatch)" stroke="#555" stroke-width="0.8"/>
<path d="M413.5 411.5 V404.91" stroke="#6a6a6a" stroke-width="0.95" fill="none"/>
<path d="M412.3 405.41 H414.7" stroke="#2a2a2a" stroke-width="1.1" fill="none"/>
<rect x="430" y="428.02" width="14" height="95.18" fill="#dddddd"/>
<path d="M437 428.02 V415.85" stroke="#6a6a6a" stroke-width="0.95" fill="none"/>
<path d="M435.8 416.35 H438.2" stroke="#2a2a2a" stroke-width="1.1" fill="none"/>
<rect x="455.5" y="399.2" width="14" height="124.5" fill="#fff" stroke="#8c8c8c" stroke-width="1"/>
<path d="M462.5 398.7 V392.61" stroke="#6a6a6a" stroke-width="0.95" fill="none"/>
<path d="M461.3 393.11 H463.7" stroke="#2a2a2a" stroke-width="1.1" fill="none"/>
<rect x="478.9" y="440.95" width="13.5" height="82.25" fill="#a9a9a9"/>
<path d="M485.65 440.95 V433.24" stroke="#6a6a6a" stroke-width="0.95" fill="none"/>
<path d="M484.45 433.74 H486.85" stroke="#2a2a2a" stroke-width="1.1" fill="none"/>
<rect x="504.3" y="433.37" width="13.7" height="89.83" fill="#4e4948"/>
<path d="M511.15 433.37 V427.9" stroke="#6a6a6a" stroke-width="0.95" fill="none"/>
<path d="M509.95 428.4 H512.35" stroke="#2a2a2a" stroke-width="1.1" fill="none"/>
<path d="M400.6 399.15 H534.9" stroke="#111" stroke-width="1.6" stroke-dasharray="7.9 2.6" fill="none"/>
<polygon points="422,402 422.76,403.65 424.57,403.87 423.23,405.1 423.59,406.88 422,406 420.41,406.88 420.77,405.1 419.43,403.87 421.24,403.65" fill="#111"/>
<polygon points="446.3,413.7 447.06,415.35 448.87,415.57 447.53,416.8 447.89,418.58 446.3,417.7 444.71,418.58 445.07,416.8 443.73,415.57 445.54,415.35" fill="#111"/>
<polygon points="492.7,428 493.46,429.65 495.27,429.87 493.93,431.1 494.29,432.88 492.7,432 491.11,432.88 491.47,431.1 490.13,429.87 491.94,429.65" fill="#111"/>
<polygon points="515.6,414.2 516.36,415.85 518.17,416.07 516.83,417.3 517.19,419.08 515.6,418.2 514.01,419.08 514.37,417.3 513.03,416.07 514.84,415.85" fill="#111"/>
<path d="M400 374.1 V525.4" stroke="#111" stroke-width="1.6" fill="none"/>
<path d="M396.8 523.2 H533.3" stroke="#111" stroke-width="1.6" fill="none"/>
<path d="M396.6 523.2 H400" stroke="#111" stroke-width="1.6" fill="none"/>
<text x="385.3" y="529" font-size="11.2" text-anchor="middle" fill="#1a1a1a" stroke="#1a1a1a" stroke-width="0.25" >0</text>
<path d="M396.6 498.35 H400" stroke="#111" stroke-width="1.6" fill="none"/>
<text x="384.4" y="504.15" font-size="11.2" text-anchor="middle" fill="#1a1a1a" stroke="#1a1a1a" stroke-width="0.25" >20</text>
<path d="M396.6 473.5 H400" stroke="#111" stroke-width="1.6" fill="none"/>
<text x="384.4" y="479.3" font-size="11.2" text-anchor="middle" fill="#1a1a1a" stroke="#1a1a1a" stroke-width="0.25" >40</text>
<path d="M396.6 448.65 H400" stroke="#111" stroke-width="1.6" fill="none"/>
<text x="384.4" y="454.45" font-size="11.2" text-anchor="middle" fill="#1a1a1a" stroke="#1a1a1a" stroke-width="0.25" >60</text>
<path d="M396.6 423.8 H400" stroke="#111" stroke-width="1.6" fill="none"/>
<text x="384.4" y="429.6" font-size="11.2" text-anchor="middle" fill="#1a1a1a" stroke="#1a1a1a" stroke-width="0.25" >80</text>
<path d="M396.6 398.95 H400" stroke="#111" stroke-width="1.6" fill="none"/>
<text x="384.1" y="404.75" font-size="11.2" text-anchor="middle" fill="#1a1a1a" stroke="#1a1a1a" stroke-width="0.25" >100</text>
<path d="M396.6 374.1 H400" stroke="#111" stroke-width="1.6" fill="none"/>
<text x="384.1" y="379.9" font-size="11.2" text-anchor="middle" fill="#1a1a1a" stroke="#1a1a1a" stroke-width="0.25" >120</text>
<text x="0" y="0" font-size="12.9" text-anchor="middle" fill="#1a1a1a" stroke="#1a1a1a" stroke-width="0.25" transform="translate(376.4 441.6) rotate(-90)">MVR, %</text>
<text x="412.5" y="532.9" font-size="8.2" font-weight="bold" text-anchor="middle" fill="#1a1a1a" stroke="#1a1a1a" stroke-width="0.25" >NaHS</text>
<text x="437.7" y="532.9" font-size="8.2" font-weight="bold" text-anchor="middle" fill="#1a1a1a" stroke="#1a1a1a" stroke-width="0.25" >DTP</text>
<text x="462.9" y="532.9" font-size="8.2" font-weight="bold" text-anchor="middle" fill="#1a1a1a" stroke="#1a1a1a" stroke-width="0.25" >GSH</text>
<text x="488.1" y="532.7" font-size="8.2" font-weight="bold" text-anchor="middle" fill="#1a1a1a" stroke="#1a1a1a" stroke-width="0.25" >GSH-</text>
<text x="488.1" y="542.1" font-size="8.2" font-weight="bold" text-anchor="middle" fill="#1a1a1a" stroke="#1a1a1a" stroke-width="0.25" >DTP</text>
<text x="516.6" y="532.7" font-size="8.2" font-weight="bold" text-anchor="middle" fill="#1a1a1a" stroke="#1a1a1a" stroke-width="0.25" >GSSG-</text>
<text x="516.6" y="542.1" font-size="8.2" font-weight="bold" text-anchor="middle" fill="#1a1a1a" stroke="#1a1a1a" stroke-width="0.25" >(DTP)<tspan font-size="3.9" dy="1.6">2</tspan></text>
</svg>
</body></html>
